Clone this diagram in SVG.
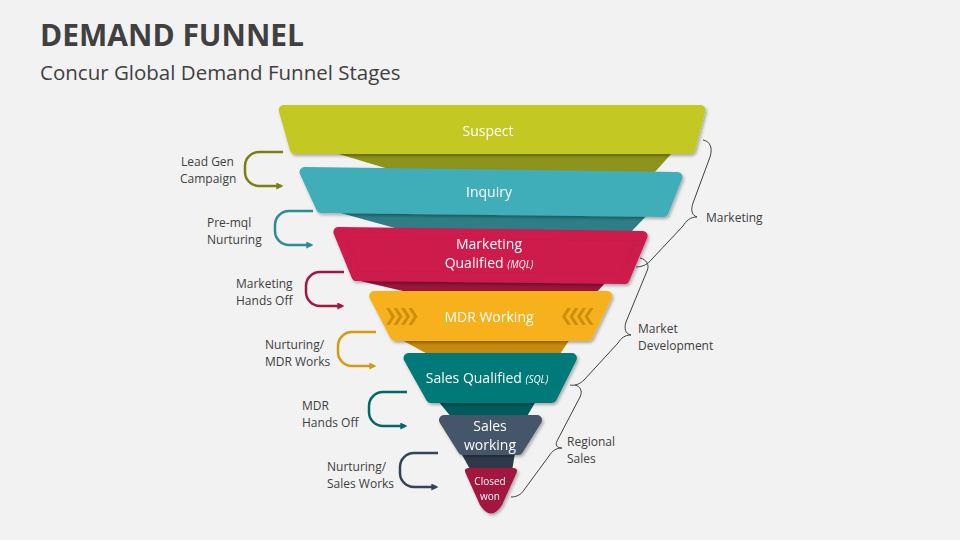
<svg xmlns="http://www.w3.org/2000/svg" width="960" height="540" viewBox="0 0 960 540">
  <defs>
    <style>
      text { font-family: "Open Sans", "Liberation Sans", sans-serif; }
      .band { stroke-width: 10; stroke-linejoin: round; }
      .bt { fill: #ffffff; font-size: 14px; text-anchor: middle; }
      .lbl { fill: #404040; font-size: 12px; }
      .arr { fill: none; stroke-width: 2.5; }
      .brace { fill: none; stroke: #404040; stroke-width: 1; }
      .chev { fill: #c98f10; }
    </style>
    <filter id="sh" x="-10%" y="-20%" width="125%" height="150%">
      <feDropShadow dx="1.5" dy="2" stdDeviation="1.5" flood-color="#000" flood-opacity="0.3"/>
    </filter>
    <marker id="m1" viewBox="0 0 6 6" refX="4" refY="3" markerWidth="7" markerHeight="7" orient="auto" markerUnits="userSpaceOnUse"><path d="M0,0 L6,3 L0,6 z" fill="#7b7f10"/></marker>
    <marker id="m2" viewBox="0 0 6 6" refX="4" refY="3" markerWidth="7" markerHeight="7" orient="auto" markerUnits="userSpaceOnUse"><path d="M0,0 L6,3 L0,6 z" fill="#2e8a93"/></marker>
    <marker id="m3" viewBox="0 0 6 6" refX="4" refY="3" markerWidth="7" markerHeight="7" orient="auto" markerUnits="userSpaceOnUse"><path d="M0,0 L6,3 L0,6 z" fill="#a3163d"/></marker>
    <marker id="m4" viewBox="0 0 6 6" refX="4" refY="3" markerWidth="7" markerHeight="7" orient="auto" markerUnits="userSpaceOnUse"><path d="M0,0 L6,3 L0,6 z" fill="#d39a14"/></marker>
    <marker id="m5" viewBox="0 0 6 6" refX="4" refY="3" markerWidth="7" markerHeight="7" orient="auto" markerUnits="userSpaceOnUse"><path d="M0,0 L6,3 L0,6 z" fill="#00676a"/></marker>
    <marker id="m6" viewBox="0 0 6 6" refX="4" refY="3" markerWidth="7" markerHeight="7" orient="auto" markerUnits="userSpaceOnUse"><path d="M0,0 L6,3 L0,6 z" fill="#354358"/></marker>
  </defs>

  <rect x="0" y="0" width="960" height="540" fill="#f2f2f2"/>

  <g id="title">
    <text x="40" y="46" font-size="30" font-weight="700" fill="#404040">DEMAND FUNNEL</text>
    <text x="40" y="80" font-size="20.5" fill="#404040">Concur Global Demand Funnel Stages</text>
  </g>

  <!-- inner (dark) funnel walls -->
  <g id="funnel-inner">
    <polygon points="332,152 673,152 654,173 402,173" fill="#8e931b"/>
    <polygon points="337,212 650,212 630,233 413,233" fill="#2e7e86"/>
    <polygon points="356,280 608,280 594,295 420,295" fill="#9a1539"/>
    <polygon points="400,339 570,339 558,357 433,357" fill="#c88a0c"/>
    <polygon points="438,401 536,401 526,418 452,418" fill="#005b5c"/>
    <polygon points="461,453 515,453 512,471 471,471" fill="#2e3a4a"/>
  </g>

  <g id="stage-suspect" filter="url(#sh)">
    <polygon class="band" points="283.7,110 700.4,110 690.2,149 294.7,149" fill="#c3c923" stroke="#c3c923"/>
    <text class="bt" x="488" y="136">Suspect</text>
  </g>
  <g id="stage-inquiry" filter="url(#sh)">
    <polygon class="band" points="304.5,172 677.5,177 663.6,212 321,208" fill="#40aeb8" stroke="#40aeb8"/>
    <text class="bt" x="489" y="197">Inquiry</text>
  </g>
  <g id="stage-mql" filter="url(#sh)">
    <polygon class="band" points="338.4,232 642.6,236 624.6,279 356.4,276" fill="#cd1a4b" stroke="#cd1a4b"/>
    <text class="bt" x="489" y="249">Marketing</text>
    <text class="bt" x="489" y="268">Qualified <tspan font-size="10" font-style="italic">(MQL)</tspan></text>
  </g>
  <g id="stage-mdr" filter="url(#sh)">
    <polygon class="band" points="374.2,296 607.1,296 587.9,336 395,336" fill="#f7b11b" stroke="#f7b11b"/>
    <polygon class="chev" points="386,308 389.5,308 395,316.5 389.5,325 386,325 391.5,316.5"/>
    <polygon class="chev" points="393.5,308 397,308 402.5,316.5 397,325 393.5,325 399,316.5"/>
    <polygon class="chev" points="401,308 404.5,308 410,316.5 404.5,325 401,325 406.5,316.5"/>
    <polygon class="chev" points="408.5,308 412,308 417.5,316.5 412,325 408.5,325 414,316.5"/>
    <polygon class="chev" points="571,308 567.5,308 562,316.5 567.5,325 571,325 565.5,316.5"/>
    <polygon class="chev" points="578.5,308 575,308 569.5,316.5 575,325 578.5,325 573,316.5"/>
    <polygon class="chev" points="586,308 582.5,308 577,316.5 582.5,325 586,325 580.5,316.5"/>
    <polygon class="chev" points="593.5,308 590,308 584.5,316.5 590,325 593.5,325 588,316.5"/>
    <text class="bt" x="489" y="322">MDR Working</text>
  </g>
  <g id="stage-sql" filter="url(#sh)">
    <polygon class="band" points="408.5,358 571.9,358 551.9,398 430.9,398" fill="#037a79" stroke="#037a79"/>
    <text class="bt" x="487" y="383">Sales Qualified <tspan font-size="10" font-style="italic">(SQL)</tspan></text>
  </g>
  <g id="stage-sales-working" filter="url(#sh)">
    <polygon class="band" points="444,420 537,420 518.2,450 462.8,450" fill="#44546a" stroke="#44546a"/>
    <text class="bt" x="490" y="431">Sales</text>
    <text class="bt" x="490" y="450">working</text>
  </g>
  <g id="stage-closed-won" filter="url(#sh)">
    <path d="M469,468 H513 Q519,468 516,474 L502,505 Q491,522 480,505 L466,474 Q463,468 469,468 Z" fill="#a3123d"/>
    <text class="bt" x="490" y="485" style="font-size:10px">Closed</text>
    <text class="bt" x="490" y="500" style="font-size:10px">won</text>
  </g>

  <!-- left transition labels -->
  <g id="label-lead-gen">
    <text class="lbl" x="181" y="166">Lead Gen</text>
    <text class="lbl" x="180" y="183">Campaign</text>
  </g>
  <g id="label-pre-mql">
    <text class="lbl" x="207" y="227">Pre-mql</text>
    <text class="lbl" x="207" y="244">Nurturing</text>
  </g>
  <g id="label-marketing-hands-off">
    <text class="lbl" x="236" y="288">Marketing</text>
    <text class="lbl" x="236" y="305">Hands Off</text>
  </g>
  <g id="label-nurturing-mdr">
    <text class="lbl" x="265" y="349">Nurturing/</text>
    <text class="lbl" x="265" y="366">MDR Works</text>
  </g>
  <g id="label-mdr-hands-off">
    <text class="lbl" x="302" y="410">MDR</text>
    <text class="lbl" x="302" y="427">Hands Off</text>
  </g>
  <g id="label-nurturing-sales">
    <text class="lbl" x="327" y="471">Nurturing/</text>
    <text class="lbl" x="327" y="488">Sales Works</text>
  </g>

  <!-- connectors -->
  <g id="connectors">
    <path class="arr" stroke="#7b7f10" marker-end="url(#m1)" d="M283,152 H259 A14,14 0 0 0 245,166 V172 A14,14 0 0 0 259,186 H281"/>
    <path class="arr" stroke="#2e8a93" marker-end="url(#m2)" d="M313,211 H289 A14,14 0 0 0 275,225 V231 A14,14 0 0 0 289,245 H311"/>
    <path class="arr" stroke="#a3163d" marker-end="url(#m3)" d="M344,272 H320 A14,14 0 0 0 306,286 V292 A14,14 0 0 0 320,306 H342"/>
    <path class="arr" stroke="#d39a14" marker-end="url(#m4)" d="M376,332 H352 A14,14 0 0 0 338,346 V352 A14,14 0 0 0 352,366 H374"/>
    <path class="arr" stroke="#00676a" marker-end="url(#m5)" d="M407,392 H383 A14,14 0 0 0 369,406 V412 A14,14 0 0 0 383,426 H405"/>
    <path class="arr" stroke="#354358" marker-end="url(#m6)" d="M438,453 H414 A14,14 0 0 0 400,467 V473 A14,14 0 0 0 414,487 H436"/>
  </g>

  <!-- right braces -->
  <g id="group-marketing">
    <path class="brace" d="M703,140 C710,141 713,148 710,157 L693,203 C691,209 691,215 697,217 C690,217 686,221 683,226 L652,259 C648,264 643,267 636,267"/>
    <text class="lbl" x="706" y="222">Marketing</text>
  </g>
  <g id="group-market-development">
    <path class="brace" d="M640,258 C646,259 650,265 647,271 L626,322 C624,328 625,334 631,335 C625,335 621,338 618,343 L584,380 C580,384 575,386 570,385"/>
    <text class="lbl" x="638" y="333">Market</text>
    <text class="lbl" x="638" y="350">Development</text>
  </g>
  <g id="group-regional-sales">
    <path class="brace" d="M575,385 C580,386 583,391 580,397 L557,441 C555,445 557,448 562,448 C556,448 552,451 549,456 L524,490 C521,495 516,497 511,497"/>
    <text class="lbl" x="567" y="446">Regional</text>
    <text class="lbl" x="567" y="463">Sales</text>
  </g>
</svg>
